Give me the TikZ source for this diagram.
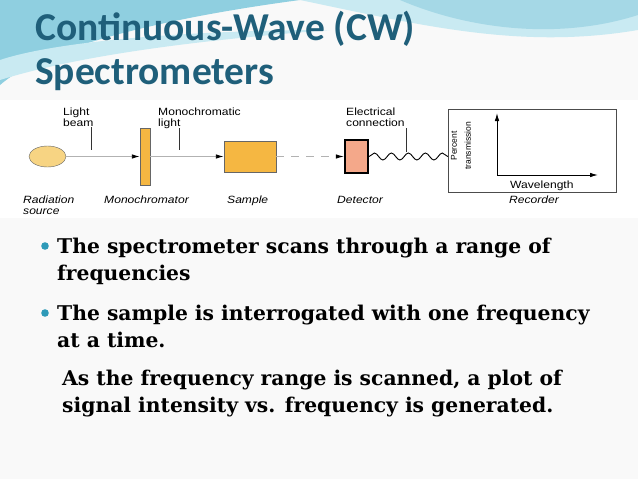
\documentclass[tikz,border=0pt]{standalone}
\usepackage{fontspec}
\setmainfont{DejaVu Serif}
\newfontfamily\titlefont{Carlito}
\newfontfamily\diafont{Liberation Sans}
\usetikzlibrary{arrows.meta,decorations.pathmorphing,shapes.geometric}
\definecolor{teal}{HTML}{1F5F7A}
\definecolor{bulc}{HTML}{2E9AB8}
\definecolor{swoosh}{HTML}{8FCFE0}
\definecolor{swooshl}{HTML}{C9EAF2}
\definecolor{srcfill}{HTML}{F7D483}
\definecolor{orng}{HTML}{F5B742}
\definecolor{detfill}{HTML}{F4A88A}
\tikzset{
  lbl/.style={font=\diafont\fontsize{10.5}{11}\selectfont,align=left,inner sep=0pt,xscale=1.15,transform shape},
  capt/.style={font=\diafont\itshape\fontsize{10.5}{11}\selectfont,align=left,inner sep=0pt,anchor=north west,xscale=1.15,transform shape},
  beam/.style={draw=gray!60,line width=0.9pt},
  tip/.style={-{Latex[length=8pt,width=4.5pt,black]}},
  bul/.style={font=\bfseries\fontsize{20.3}{27}\selectfont,anchor=base west,inner sep=0pt},
  tit/.style={anchor=base west,inner sep=0pt,font=\titlefont\bfseries\fontsize{39.5}{44}\selectfont,text=teal},
}
\begin{document}
\begin{tikzpicture}[x=1pt,y=-1pt]
\useasboundingbox (0,0) rectangle (638,479);
\fill[white!95!gray] (0,0) rectangle (638,479);
% swooshes
\fill[swoosh] (0,0) -- (300,0) .. controls (150,20) and (40,50) .. (0,85) -- cycle;
\fill[swooshl] (300,0) .. controls (420,25) and (520,50) .. (638,30) -- (638,0) -- cycle;
\fill[swoosh!80] (400,0) .. controls (470,30) and (560,40) .. (638,15) -- (638,0) -- cycle;
\fill[swooshl] (0,60) .. controls (60,40) and (200,30) .. (330,30) .. controls (200,40) and (80,55) .. (0,80) -- cycle;
% title
\node[tit] (t1) at (35,41) {Continuous-Wave (CW)};
\node[tit] (t2) at (35,84) {Spectrometers};
% diagram band
\fill[white] (0,100) rectangle (638,218);
\node[draw=black!60,fill=srcfill,ellipse,minimum width=37pt,minimum height=21pt,inner sep=0pt] (src) at (47.5,156.5) {};
\node[draw=black!60,fill=orng,minimum width=10pt,minimum height=57pt,inner sep=0pt] (mono) at (145,156.5) {};
\node[draw=black!60,fill=orng,minimum width=52pt,minimum height=31pt,inner sep=0pt] (samp) at (250,156.5) {};
\node[draw=black,line width=2.2pt,fill=detfill,minimum width=23pt,minimum height=33pt,inner sep=0pt] (det) at (356.5,156.5) {};
\node[draw=black!70,minimum width=168pt,minimum height=83pt,inner sep=0pt] (rec) at (532,150.5) {};
\draw[beam,tip] (src.east) -- (mono.west |- src.east);
\draw[beam,tip] (mono.east |- src.east) -- (samp.west |- src.east);
\draw[beam,dash pattern=on 8pt off 7pt,tip] (samp.east |- src.east) -- (det.west |- src.east);
\draw[black,line width=0.9pt,decorate,decoration={snake,amplitude=3.5pt,segment length=17pt}] (det.east |- src.east) -- (rec.west |- src.east);
% labels
\node[lbl,anchor=north west] (l1) at (63,108) {Light\\beam};
\coordinate (l1a) at (91,127); \coordinate (l1b) at (91,150);
\draw[black!80,line width=0.7pt] (l1a) -- (l1b);
\node[lbl,anchor=north west] (l2) at (158,108) {Monochromatic\\light};
\coordinate (l2a) at (179,128); \coordinate (l2b) at (179,150);
\draw[black!80,line width=0.7pt] (l2a) -- (l2b);
\node[lbl,anchor=north west] (l3) at (346,108) {Electrical\\connection};
\coordinate (l3a) at (406,128); \coordinate (l3b) at (406,152);
\draw[black!80,line width=0.7pt] (l3a) -- (l3b);
% recorder axes
\coordinate (o) at (497,175);
\coordinate (ya) at (497,113);
\coordinate (xa) at (598,175);
\draw[black,line width=0.9pt,tip] (o) -- (ya);
\draw[black,line width=0.9pt,tip] (o) -- (xa);
\node[font=\diafont\fontsize{8.5}{14}\selectfont,align=center,inner sep=0pt,rotate=90] (pt) at (461,146) {Percent\\transmission};
\node[lbl,anchor=north west] (wl) at (510,181) {Wavelength};
% captions
\node[capt] (c1) at (23,196) {Radiation\\source};
\node[capt] (c2) at (104,196) {Monochromator};
\node[capt] (c3) at (227,196) {Sample};
\node[capt] (c4) at (337,196) {Detector};
\node[capt] (c5) at (509,196) {Recorder};
% bullets
\fill[bulc] (45,246) circle (3.8pt);
\fill[bulc] (45,313) circle (3.8pt);
\node[bul] (b1a) at (57,253) {The spectrometer scans through a range of};
\node[bul] (b1b) at (57,280) {frequencies};
\node[bul] (b2a) at (57,320) {The sample is interrogated with one frequency};
\node[bul] (b2b) at (57,347) {at a time.};
\node[bul] (b3a) at (62,385) {As the frequency range is scanned, a plot of};
\node[bul] (b3b) at (62,412) {signal intensity vs. frequency is generated.};
\end{tikzpicture}
\end{document}
